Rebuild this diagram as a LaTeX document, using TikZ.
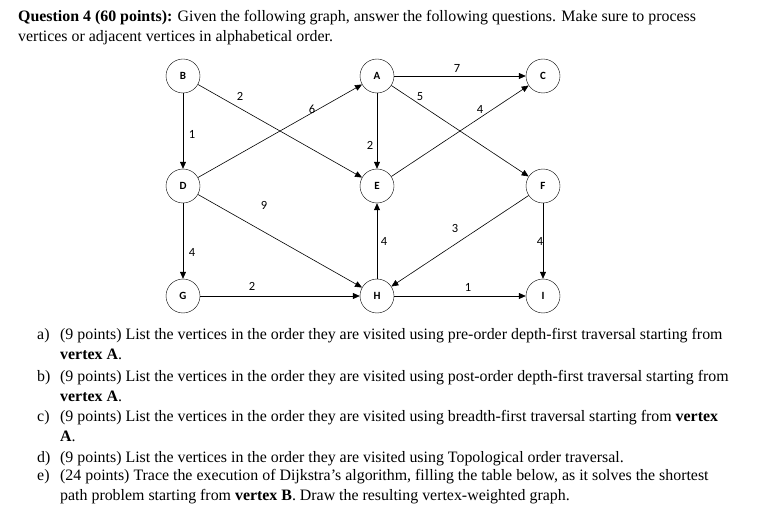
\documentclass[tikz,border=0pt]{standalone}
\usepackage{fontspec}
\setmainfont{Liberation Serif}
\newfontfamily\carlitofont{Carlito}
\usetikzlibrary{arrows.meta}
\begin{document}
\begin{tikzpicture}[x=1pt,y=-1pt,
  vtx/.style={circle,draw,minimum size=34pt,inner sep=0pt,font=\carlitofont\bfseries\fontsize{11}{13}\selectfont},
  edge/.style={draw,-{Triangle[length=7pt,width=6pt]},line width=0.6pt},
  wt/.style={font=\carlitofont\fontsize{12.5}{14}\selectfont,inner sep=0pt},
  ln/.style={anchor=base west,inner sep=0pt,font=\fontsize{15.9}{18}\selectfont}]
\useasboundingbox (0,0) rectangle (772,532);
\node[vtx] (B) at (183,76) {B};
\node[vtx] (A) at (377,76) {A};
\node[vtx] (C) at (543,76) {C};
\node[vtx] (D) at (183,186) {D};
\node[vtx] (E) at (377,186) {E};
\node[vtx] (F) at (543,186) {F};
\node[vtx] (G) at (183,296) {G};
\node[vtx] (H) at (377,296) {H};
\node[vtx] (I) at (543,296) {I};
\draw[edge] (B) -- (D);
\draw[edge] (B) -- (E);
\draw[edge] (D) -- (A);
\draw[edge] (A) -- (E);
\draw[edge] (A) -- (C);
\draw[edge] (A) -- (F);
\draw[edge] (E) -- (C);
\draw[edge] (D) -- (H);
\draw[edge] (H) -- (E);
\draw[edge] (F) -- (H);
\draw[edge] (F) -- (I);
\draw[edge] (D) -- (G);
\draw[edge] (G) -- (H);
\draw[edge] (H) -- (I);
\node[wt] (w1) at (457,68) {7};
\node[wt] (w2) at (240,96) {2};
\node[wt] (w3) at (312,109) {6};
\node[wt] (w4) at (420,97) {5};
\node[wt] (w5) at (480,109) {4};
\node[wt] (w6) at (192,134) {1};
\node[wt] (w7) at (370,145) {2};
\node[wt] (w8) at (264,205) {9};
\node[wt] (w9) at (455,228) {3};
\node[wt] (w10) at (384,241) {4};
\node[wt] (w11) at (540,241) {4};
\node[wt] (w12) at (192,252) {4};
\node[wt] (w13) at (252,286) {2};
\node[wt] (w14) at (468,287) {1};
\node[ln] (t1) at (18,22) {\textbf{Question 4 (60 points):} Given the following graph, answer the following questions. Make sure to process};
\node[ln] (t2) at (18,42) {vertices or adjacent vertices in alphabetical order.};
\node[ln] (a1) at (37,339) {a)};
\node[ln] (a2) at (60,339) {(9 points) List the vertices in the order they are visited using pre-order depth-first traversal starting from};
\node[ln] (a3) at (60,359) {\textbf{vertex A}.};
\node[ln] (b1) at (37,381) {b)};
\node[ln] (b2) at (60,381) {(9 points) List the vertices in the order they are visited using post-order depth-first traversal starting from};
\node[ln] (b3) at (60,401) {\textbf{vertex A}.};
\node[ln] (c1) at (37,421) {c)};
\node[ln] (c2) at (60,421) {(9 points) List the vertices in the order they are visited using breadth-first traversal starting from \textbf{vertex}};
\node[ln] (c3) at (60,441) {\textbf{A}.};
\node[ln] (d1) at (37,462) {d)};
\node[ln] (d2) at (60,462) {(9 points) List the vertices in the order they are visited using Topological order traversal.};
\node[ln] (e1) at (37,480) {e)};
\node[ln] (e2) at (60,480) {(24 points) Trace the execution of Dijkstra's algorithm, filling the table below, as it solves the shortest};
\node[ln] (e3) at (60,500) {path problem starting from \textbf{vertex B}. Draw the resulting vertex-weighted graph.};
\end{tikzpicture}
\end{document}
